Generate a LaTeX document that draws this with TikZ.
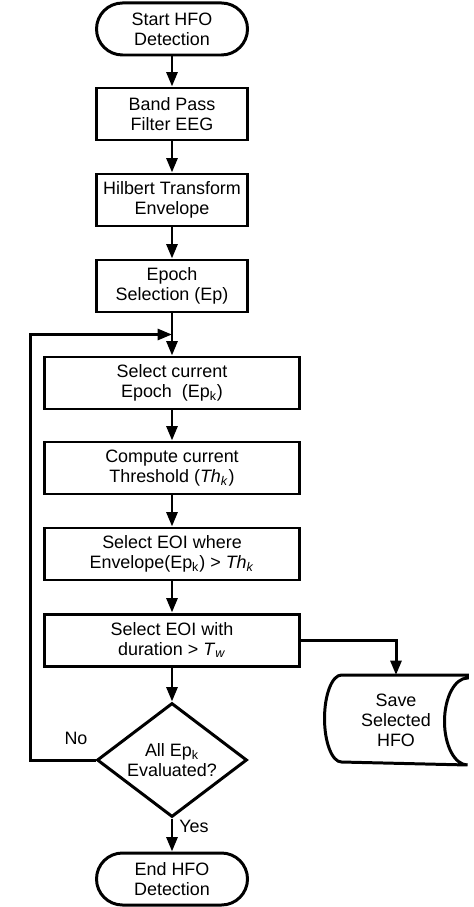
\documentclass[tikz,border=0pt]{standalone}
\usepackage{fontspec}
\setmainfont{Liberation Sans}
\usetikzlibrary{positioning,shapes.geometric,arrows.meta,calc}
\newcommand{\Epk}{Ep\textsubscript{k}}
\newcommand{\Thk}{\textit{Th}\textsubscript{\textit{k}}}

\begin{document}
\begin{tikzpicture}[node distance=17mm,on grid,>={Triangle[length=2.9mm,width=2.2mm]},line width=1.7pt,
		every node/.style={font=\fontsize{10.2}{11.4}\selectfont,align=center},
		term/.style={rectangle,draw=black,rounded corners=5.2mm,minimum width=30.2mm,minimum height=10.4mm,inner sep=0pt},
		proc/.style={rectangle,draw=black,minimum width=30.2mm,minimum height=10.4mm,inner sep=0pt},
		wproc/.style={proc,minimum width=51mm},
		decision/.style={diamond,draw=black,aspect=1.32,minimum width=30mm,minimum height=22.8mm,inner sep=0pt},
		store/.style={rectangle,minimum width=28mm,minimum height=17.4mm,inner sep=0pt}]
		\useasboundingbox (0,0) rectangle (9.48,-18.14);
		\node[term]   (start)  at (3.44,-0.58)            {Start HFO\\Detection};
		\node[proc]   (bpf)    [below=of start]           {Band Pass\\Filter EEG};
		\node[proc]   (hilb)   [below=17.2mm of bpf]      {Hilbert Transform\\Envelope};
		\node[proc]   (epoch)  [below=17.2mm of hilb]     {Epoch\\Selection (Ep)};
		\node[wproc]  (selep)  [below=19.4mm of epoch]    {Select current\\Epoch\ \ (\Epk)};
		\node[wproc]  (thr)    [below=of selep]           {Compute current\\Threshold (\Thk)};
		\node[wproc]  (eoie)   [below=17.2mm of thr]      {Select EOI where\\Envelope(\Epk) > \Thk};
		\node[wproc]  (eoiw)   [below=17.2mm of eoie]     {Select EOI with\\duration > \textit{T}\textsubscript{\textit{w}}};
		\node[decision] (dec)  [below=24mm of eoiw]       {All \Epk\\Evaluated?};
		\node[term]   (endn)   [below=23.8mm of dec]      {End HFO\\Detection};
		\node[store]  (save)   [below right=1.6cm and 4.48cm of eoiw] {Save\\Selected\\HFO};
		
		% stored data outline
		\draw (save.north east) -- ([xshift=3.4mm]save.north west)
			arc[start angle=90,end angle=270,x radius=3.4mm,y radius=8.7mm]
			-- (save.south east)
			arc[start angle=270,end angle=90,x radius=4.6mm,y radius=8.7mm] -- cycle;
		
		\coordinate (join) at ($(epoch.south)!0.5!(selep.north)$);
		
		\path[->]
		(start) edge (bpf)
		(bpf) edge (hilb)
		(hilb) edge (epoch)
		(epoch) edge (selep)
		(selep) edge (thr)
		(thr) edge (eoie)
		(eoie) edge (eoiw)
		(eoiw) edge (dec)
		(dec) edge node[right,pos=0.25] {Yes} (endn);
		
		\draw[->] (eoiw.east) -| (save.north);
		\draw[->] (dec.west) -- node[above,pos=0.3,yshift=1.5mm] {No} ++(-13mm,0) |- (join);
\end{tikzpicture}
\end{document}
